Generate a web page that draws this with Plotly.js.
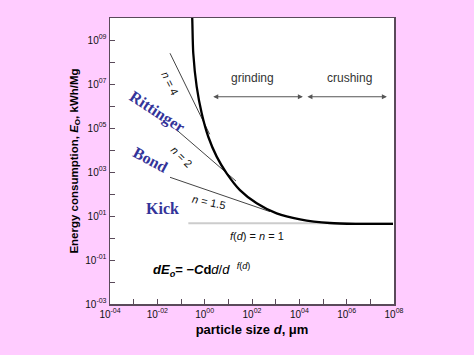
<!DOCTYPE html>
<html>
<head>
<meta charset="utf-8">
<script src="https://cdn.plot.ly/plotly-3.0.1.min.js"></script>
<style>
html,body{margin:0;padding:0;background:#ffccff;}
#chart{width:474px;height:355px;}
</style>
</head>
<body>
<div id="chart"></div>
<script>
// Main energy-size curve (particle size in um, energy in kWh/Mg)
const curveX = [0.282, 0.300, 0.330, 0.460, 0.748, 1.42, 3.22, 8.51, 30.9, 158, 1100, 1.07e4, 1.95e5, 3.2e6, 9.1e7];
const curveY = [4.0e10, 8.1e9, 2.5e8, 7.6e6, 4.7e5, 4.0e4, 5.0e3, 870, 151, 38, 13.2, 7.1, 4.8, 4.4, 4.4];
// Tangent lines
const n4X = [0.0343, 1.62];   const n4Y = [2.5e8, 5.2e4];
const n2X = [0.066, 21.0];    const n2Y = [8.1e4, 389];
const n15X = [0.0343, 575];   const n15Y = [575, 15.8];
const n1X = [0.204, 9.1e7];   const n1Y = [4.65, 4.65];
// Tick labels (major, labelled) and unlabelled minor decades
const xTickExp = [-4,-2,0,2,4,6,8];
const xTickText = ['10<sup>-04</sup>','10<sup>-02</sup>','10<sup>00</sup>','10<sup>02</sup>','10<sup>04</sup>','10<sup>06</sup>','10<sup>08</sup>'];
const xMinorExp = [-3,-1,1,3,5,7];
const yTickExp = [-3,-1,1,3,5,7,9];
const yTickText = ['10<sup>-03</sup>','10<sup>-01</sup>','10<sup>01</sup>','10<sup>03</sup>','10<sup>05</sup>','10<sup>07</sup>','10<sup>09</sup>'];
const yMinorExp = [-2,0,2,4,6,8];
// Region arrows (exponents of x) and label level
const grindRange = [0.30, 4.15];
const crushRange = [4.28, 7.70];
const arrowLevel = 6.42;

const frame = '#5a4a5a';
const thin = {color:'#444', width:1};
const traces = [
  {x:n1X, y:n1Y, mode:'lines', line:{color:'#cccccc', width:2}},
  {x:n4X, y:n4Y, mode:'lines', line:thin},
  {x:n2X, y:n2Y, mode:'lines', line:thin},
  {x:n15X, y:n15Y, mode:'lines', line:thin},
  {x:curveX, y:curveY, mode:'lines', line:{color:'#000', width:2.3, shape:'spline', smoothing:0.8}}
];
const tv = a => a.map(e => Math.pow(10, e));
const blue = '#333399';
const serif = 'Liberation Serif, Times New Roman, serif';
const sans = 'Liberation Sans, Arial, sans-serif';
const ann = [
  {x:-1.465, y:7.05, text:'<i>n</i> = 4', textangle:63, font:{size:11, color:'#111', family:sans}},
  {x:-2.01, y:5.73, text:'<b>Rittinger</b>', textangle:33, font:{size:16, color:blue, family:serif}},
  {x:-0.96, y:3.68, text:'<i>n</i> = 2', textangle:45, font:{size:11, color:'#111', family:sans}},
  {x:-2.31, y:3.55, text:'<b>Bond</b>', textangle:28, font:{size:16, color:blue, family:serif}},
  {x:0.18, y:1.62, text:'<i>n</i> = 1.5', textangle:12, font:{size:11, color:'#111', family:sans}},
  {x:-1.80, y:1.32, text:'<b>Kick</b>', font:{size:16, color:blue, family:serif}},
  {x:2.21, y:0.09, text:'<i>f</i>(<i>d</i>) = <i>n</i> = 1', font:{size:11, color:'#111', family:sans}},
  {x:-0.15, y:-1.45, text:'<b><i>dE<sub>o</sub></i>= −<i>C</i>d</b><i>d</i>/<i>d</i>  <sup><i>f</i>(<i>d</i>)</sup>', font:{size:13, color:'#000', family:sans}},
  {x:2.04, y:7.27, text:'grinding', font:{size:12, color:'#333', family:sans}},
  {x:6.14, y:7.27, text:'crushing', font:{size:12, color:'#333', family:sans}},
  {x:grindRange[1], y:arrowLevel, ax:grindRange[0], ay:arrowLevel, axref:'x', ayref:'y', text:'', showarrow:true, arrowside:'end+start', arrowhead:2, arrowsize:1, arrowwidth:1, arrowcolor:'#555'},
  {x:crushRange[1], y:arrowLevel, ax:crushRange[0], ay:arrowLevel, axref:'x', ayref:'y', text:'', showarrow:true, arrowside:'end+start', arrowhead:2, arrowsize:1, arrowwidth:1, arrowcolor:'#555'}
].map(a => Object.assign({xref:'x', yref:'y', showarrow:false}, a));

const minorStyle = vals => ({tickmode:'array', tickvals:vals, ticks:'inside', ticklen:5, tickcolor:frame, showgrid:false});
const layout = {
  width:474, height:355,
  paper_bgcolor:'#ffccff', plot_bgcolor:'#ffffff',
  margin:{l:110, r:80, t:18, b:51},
  showlegend:false,
  font:{family:sans, color:'#111'},
  xaxis:{type:'log', range:[-4,8], tickmode:'array', tickvals:tv(xTickExp), ticktext:xTickText,
    ticks:'inside', ticklen:5, tickcolor:frame, showline:true, linecolor:frame, linewidth:1.5, mirror:true,
    minor:minorStyle(tv(xMinorExp)),
    showgrid:false, zeroline:false, tickfont:{size:10, family:sans, color:'#111'},
    title:{text:'<b>particle size <i>d</i>, μm</b>', font:{size:13, family:sans, color:'#000'}, standoff:6}},
  yaxis:{type:'log', range:[-3,10], tickmode:'array', tickvals:tv(yTickExp), ticktext:yTickText,
    ticks:'inside', ticklen:5, tickcolor:frame, showline:true, linecolor:frame, linewidth:1.5, mirror:true,
    minor:minorStyle(tv(yMinorExp)),
    showgrid:false, zeroline:false, tickfont:{size:10, family:sans, color:'#111'},
    title:{text:'<b>Energy consumption, <i>E</i><sub>O</sub>, kWh/Mg</b>', font:{size:11.5, family:sans, color:'#000'}, standoff:4}},
  annotations:ann
};
Plotly.newPlot('chart', traces, layout, {displayModeBar:false, staticPlot:true});
</script>
</body>
</html>
